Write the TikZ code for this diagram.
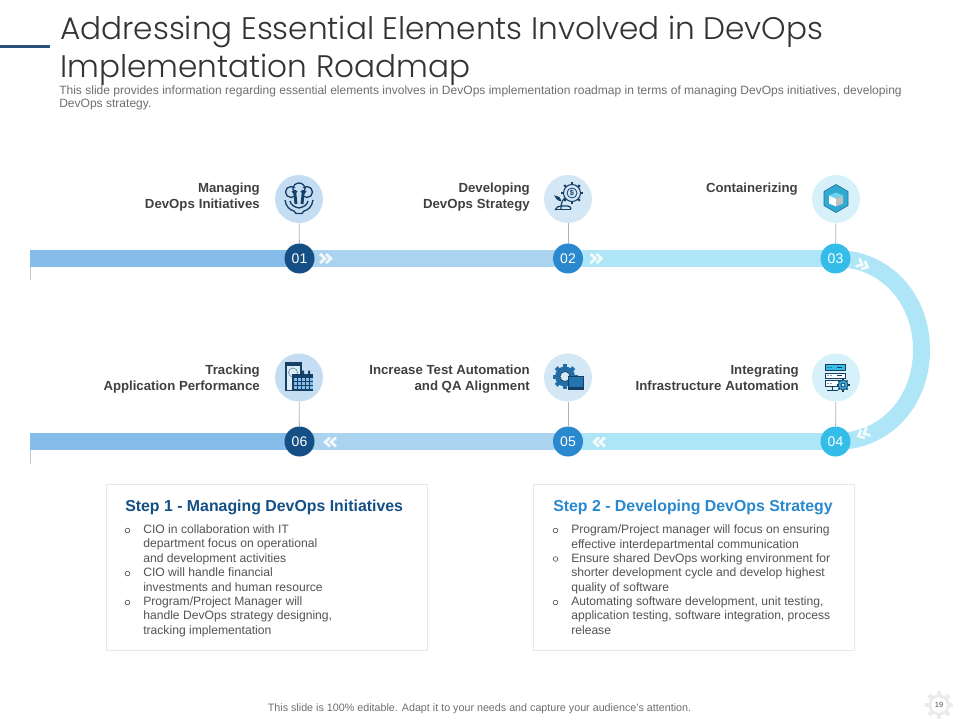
\documentclass[tikz,border=0pt]{standalone}
\usepackage{fontspec}
\setmainfont{Liberation Sans}
\newfontfamily\titlefont{Poppins Light}
\definecolor{navy}{HTML}{144F85}
\definecolor{midb}{HTML}{2A88CF}
\definecolor{cyanb}{HTML}{35BDE9}
\definecolor{band1}{HTML}{85BCE9}
\definecolor{band2}{HTML}{A9D3EE}
\definecolor{band3}{HTML}{AFE6F7}
\definecolor{halo1}{HTML}{C5DDF3}
\definecolor{halo2}{HTML}{D4E7F5}
\definecolor{halo3}{HTML}{D7F1FA}
\definecolor{ink}{HTML}{163F66}
\definecolor{txt}{HTML}{404040}
\definecolor{subt}{HTML}{6E6E6E}
\tikzset{
  x=0.75pt,y=-0.75pt,
  bandline/.style={line width=12.75pt},
  numdot/.style={circle,minimum size=22.5pt,inner sep=0pt,text=white,font=\fontsize{10.5}{12}\selectfont},
  halo/.style={circle,minimum size=36pt,inner sep=0pt},
  stem/.style={draw=black!30,line width=0.6pt},
  steplabel/.style={anchor=base east,align=right,text=txt,inner sep=0pt,font=\fontsize{9.9}{12}\selectfont\bfseries},
  card/.style={draw=black!9,line width=0.6pt,fill=white,minimum width=241pt,minimum height=125pt,inner sep=0pt},
  cardtitle/.style={anchor=base west,inner sep=0pt,font=\fontsize{11.9}{14}\selectfont\bfseries},
  cardtext/.style={anchor=base west,align=left,inner sep=0pt,text=txt!90,font=\fontsize{9.1}{10.75}\selectfont},
  bul/.style={circle,draw=txt,line width=0.4pt,minimum size=3.5pt,inner sep=0pt},
  chevline/.style={draw=white,line width=2pt,opacity=.85},
  icon/.style={draw=ink,line width=0.6pt},
}
\newcommand{\chevs}[4]{% x,y,rotation,direction
  \begin{scope}[shift={(#1,#2)},rotate=#3]
    \draw[chevline] (-6*#4,-4.5) -- (-1*#4,0) -- (-6*#4,4.5);
    \draw[chevline] (0*#4,-4.5) -- (5*#4,0) -- (0*#4,4.5);
  \end{scope}}
\begin{document}
\begin{tikzpicture}
\useasboundingbox (0,0) rectangle (960,720);
% anchor points of the roadmap
\coordinate (s1) at (30,258.5);
\coordinate (s6) at (30,441.5);
\coordinate (p1) at (299.5,258.5);
\coordinate (p2) at (568,258.5);
\coordinate (p3) at (835.5,258.5);
\coordinate (p4) at (835.5,441.5);
\coordinate (p5) at (568,441.5);
\coordinate (p6) at (299.5,441.5);
\coordinate (ea) at (921.5,350);
\coordinate (t1) at (30,280);
\coordinate (t6) at (30,464);
% title
\coordinate (ra) at (0,46.5);
\coordinate (rb) at (50,46.5);
\draw[draw=navy!80!black!90,line width=1.6pt] (ra) -- (rb);
\node[anchor=base west,inner sep=0pt,text=black!80,font=\fontsize{23.35}{28.5}\selectfont\titlefont,align=left] (title) at (60,77.5)
  {Addressing Essential Elements Involved in DevOps\\Implementation Roadmap};
\node[anchor=base west,inner sep=0pt,text=subt,align=left,font=\fontsize{9.03}{10.4}\selectfont] (sub) at (59,108)
  {This slide provides information regarding essential elements involves in DevOps implementation roadmap in terms of managing DevOps initiatives, developing\\DevOps strategy.};
% bands
\draw[draw=black!22,line width=0.5pt] (s1 |- 0,250) -- (t1);
\draw[draw=black!22,line width=0.5pt] (s6 |- 0,433) -- (t6);
\draw[band3,bandline] (p3) .. controls +(50.5,0) and (921.5,299) .. (ea) .. controls (921.5,401) and +(50.5,0) .. (p4);
\draw[band3,bandline] (p2) -- (p3);
\draw[band3,bandline] (p5) -- (p4);
\draw[band2,bandline] (p1) -- (p2);
\draw[band2,bandline] (p6) -- (p5);
\draw[band1,bandline] (s1) -- (p1);
\draw[band1,bandline] (s6) -- (p6);
% chevrons
\chevs{326}{258.5}{0}{1}
\chevs{596.5}{258.5}{0}{1}
\chevs{863}{265}{-25}{1}
\chevs{863}{434}{25}{-1}
\chevs{599}{442}{0}{-1}
\chevs{330}{442}{0}{-1}
% halo circles
\node[halo,fill=halo1] (h1) at (299,199) {};
\node[halo,fill=halo2] (h2) at (568,199) {};
\node[halo,fill=halo3] (h3) at (836,199) {};
\node[halo,fill=halo3] (h4) at (836,377.5) {};
\node[halo,fill=halo2] (h5) at (568,377.5) {};
\node[halo,fill=halo1] (h6) at (299,377.5) {};
% number dots
\node[numdot,fill=navy] (n1) at (p1) {01};
\node[numdot,fill=midb] (n2) at (p2) {02};
\node[numdot,fill=cyanb] (n3) at (p3) {03};
\node[numdot,fill=cyanb] (n4) at (p4) {04};
\node[numdot,fill=midb] (n5) at (p5) {05};
\node[numdot,fill=navy] (n6) at (p6) {06};
% connectors
\draw[stem] (h1) -- (n1);
\draw[stem] (h2) -- (n2);
\draw[stem] (h3) -- (n3);
\draw[stem] (h4) -- (n4);
\draw[stem] (h5) -- (n5);
\draw[stem] (h6) -- (n6);
% labels
\node[steplabel] (l1) at (260,209) {Managing\\DevOps\hspace{0.3em}Initiatives};
\node[steplabel] (l2) at (530,209) {Developing\\DevOps\hspace{0.3em}Strategy};
\node[steplabel] (l3) at (798,193) {Containerizing};
\node[steplabel] (l4) at (799,390) {Integrating\\Infrastructure\hspace{0.3em}Automation};
\node[steplabel] (l5) at (530,390) {Increase Test Automation\\and QA Alignment};
\node[steplabel] (l6) at (260,390) {Tracking\\Application Performance};
% icon 1: cloud, tools, gear arc
\begin{scope}[shift={(299,199)}]
  \draw[icon,line width=1pt] (-8,-7) circle[radius=5.5] (0,-10) circle[radius=6] (8,-7) circle[radius=5.5];
  \fill[halo1] (-9,-9) rectangle (9,-3);
  \fill[halo1] (-5,-11) rectangle (5,-6);
  \draw[ink,line width=2.2pt] (-4.5,-9) -- (-3,5);
  \draw[ink,line width=2.2pt] (4.5,-9) -- (3,5);
  \draw[ink,line width=1pt] (-7,-8) -- (-4.5,-5) -- (-2,-8) (2,-8) -- (4.5,-5) -- (7,-8);
  \draw[ink,line width=1pt] (-14,1) .. controls (-13,8) and (-9,11) .. (-5,12) -- (-3,14.5) -- (3,14.5) -- (5,12) .. controls (9,11) and (13,8) .. (14,1);
  \draw[ink,line width=1pt] (-9,2) .. controls (-8,6) and (-5,8) .. (0,9) .. controls (5,8) and (8,6) .. (9,2);
\end{scope}
% icon 2: gear with dollar and plant
\begin{scope}[shift={(568,199)}]
  \foreach \a in {0,45,...,315}{\draw[ink,line width=1.6pt] (4,-6) ++(\a:8) -- ++(\a:3);}
  \draw[icon,fill=halo2,line width=0.8pt] (4,-6) circle[radius=8.5];
  \draw[icon,line width=0.6pt] (4,-6) circle[radius=5];
  \node[inner sep=0pt,text=ink,font=\fontsize{5.5}{6}\selectfont\bfseries] (dollar) at (4,-6) {\$};
  \draw[icon,line width=0.9pt] (-7,10) .. controls (-7,5) and (-6,1) .. (-3,-1);
  \draw[icon,fill=ink] (-7,2) .. controls (-11,1) and (-12,-1) .. (-13,-3) .. controls (-10,-3) and (-7,-1) .. (-7,2);
  \draw[icon,line width=0.9pt] (-13,11) .. controls (-12,8) and (-9,7) .. (-7,7) -- (0,7) .. controls (2,7) and (3,9) .. (3,10);
  \draw[icon,line width=0.9pt] (-13,10.5) -- (3,10.5);
\end{scope}
% icon 3: hexagon with open box
\begin{scope}[shift={(836,198.5)}]
  \fill[fill=cyanb!90!black,draw=ink!60!cyanb,line width=0.5pt] (0,-14) -- (12,-7) -- (12,7) -- (0,14) -- (-12,7) -- (-12,-7) -- cycle;
  \fill[white!85!halo3] (-7,-3) -- (0,0) -- (0,8) -- (-7,5) -- cycle;
  \fill[white!75!black!95] (7,-3) -- (0,0) -- (0,8) -- (7,5) -- cycle;
  \fill[cyanb!70!white] (-7,-3) -- (0,-6) -- (7,-3) -- (0,0) -- cycle;
\end{scope}
% icon 4: server rows and gear
\begin{scope}[shift={(836,377.5)}]
  \draw[icon,fill=cyanb] (-11,-13) rectangle (9,-7);
  \draw[icon,fill=white] (-11,-4.5) rectangle (9,1);
  \draw[icon,fill=white] (-11,3) rectangle (4,9);
  \draw[icon] (-4,9) -- (-4,12) (-9,12.5) -- (2,12.5);
  \foreach \yy/\xa in {-10/-8,-2/-8,6/-8}{\fill[ink] (\xa,\yy) circle[radius=0.7] (\xa+3,\yy) circle[radius=0.7];}
  \draw[ink,line width=0.6pt] (1,-10) -- (6,-10) (1,-2) -- (6,-2);
  \foreach \a in {0,45,...,315}{\draw[ink,line width=1.2pt] (7,7.5) ++(\a:4.5) -- ++(\a:2);}
  \draw[icon,fill=cyanb!70!midb] (7,7.5) circle[radius=5];
  \draw[icon,fill=halo3] (7,7.5) circle[radius=2];
\end{scope}
% icon 5: gear with card
\begin{scope}[shift={(568,377.5)}]
  \foreach \a in {0,45,...,315}{\draw[midb!80!black,line width=3pt] (-3,-1) ++(\a:9) -- ++(\a:3.5);}
  \fill[midb!80!black] (-3,-1) circle[radius=10];
  \draw[ink,line width=0.5pt,fill=halo2] (-3,-1) circle[radius=5];
  \draw[ink,line width=0.7pt,fill=midb!85!black] (0,-1) rectangle (15,12);
  \fill[ink] (0,9.5) rectangle (15,12);
\end{scope}
% icon 6: phone and calendar
\begin{scope}[shift={(299,377.5)}]
  \draw[ink,line width=0.9pt,fill=halo1!60!white] (-13,-15) rectangle (2,13);
  \fill[ink] (-13,-15) rectangle (2,-12);
  \draw[ink!60,line width=0.5pt] (-6,-5) circle[radius=4.5];
  \fill[ink] (-7,-4) rectangle (14,13);
  \fill[ink] (3,-7) rectangle (5,-2) (9,-7) rectangle (11,-2);
  \foreach \xx in {-5.5,-1.5,2.5,6.5,10.5}{\foreach \yy in {0.5,4.5,8.5}{\fill[band1] (\xx,\yy) rectangle +(3,3);}}
\end{scope}
% cards
\node[card] (c1) at (267,567.5) {};
\node[card] (c2) at (694,567.5) {};
\node[cardtitle,text=navy] (c1t) at (125,511.5) {Step 1 - Managing DevOps Initiatives};
\node[cardtitle,text=midb] (c2t) at (553,511.5) {Step 2 - Developing DevOps Strategy};
\node[cardtext] (a1) at (143,562) {CIO in collaboration with IT\\department focus on operational\\and development activities};
\node[cardtext] (a2) at (143,591) {CIO will handle financial\\investments and human resource};
\node[cardtext] (a3) at (143,634) {Program/Project Manager will\\handle DevOps strategy designing,\\tracking implementation};
\node[cardtext] (b1) at (571,548) {Program/Project manager will focus on ensuring\\effective interdepartmental communication};
\node[cardtext] (b2) at (571,591) {Ensure shared DevOps working environment for\\shorter development cycle and develop highest\\quality of software};
\node[cardtext] (b3) at (571,634) {Automating software development, unit testing,\\application testing, software integration, process\\release};
\node[bul] (ba1) at (127.5,530.5) {};
\node[bul] (ba2) at (127.5,573.5) {};
\node[bul] (ba3) at (127.5,602.5) {};
\node[bul] (bb1) at (555.5,530.5) {};
\node[bul] (bb2) at (555.5,559) {};
\node[bul] (bb3) at (555.5,602.5) {};
% footer
\node[anchor=base,inner sep=0pt,text=subt,font=\fontsize{8.05}{10}\selectfont] (foot) at (479.5,711.5) {This slide is 100\% editable. Adapt it to your needs and capture your audience's attention.};
\foreach \a in {0,45,...,315}{\draw[black!8,line width=3.4pt] (939,705) ++(\a:8) -- ++(\a:6);}
\fill[black!8] (939,705) circle[radius=10.5];
\node[circle,fill=white,minimum size=11.5pt,inner sep=0pt,text=black!70,font=\fontsize{5.6}{6}\selectfont] (pg) at (939,705) {19};
\end{tikzpicture}
\end{document}
